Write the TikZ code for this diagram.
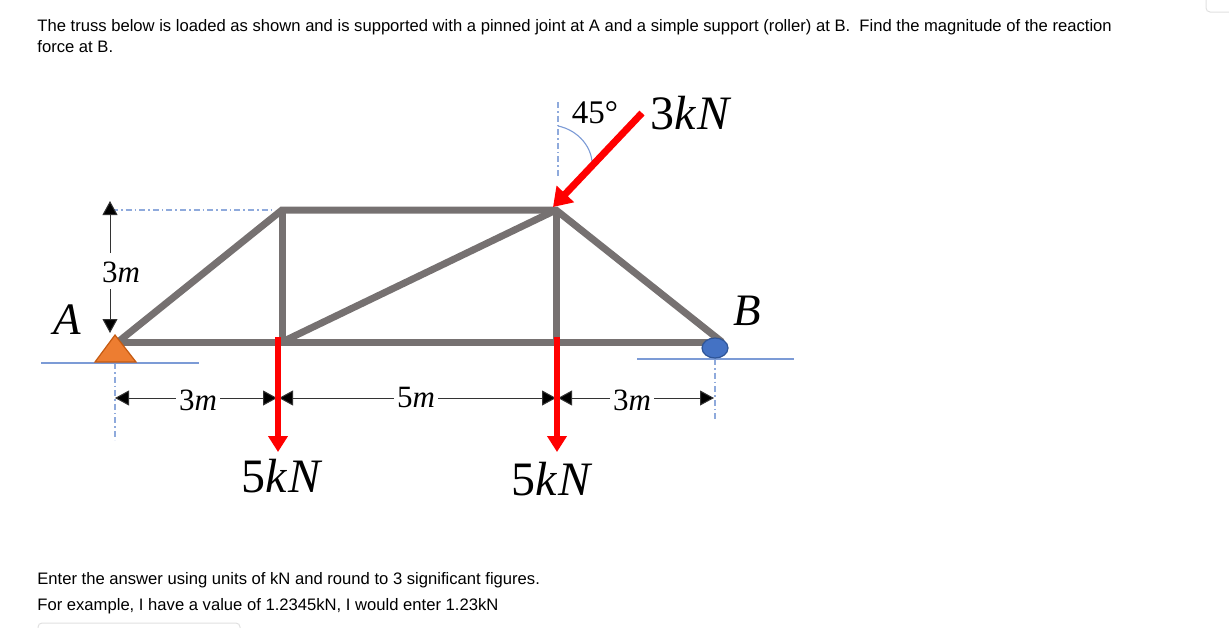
\documentclass[tikz,border=0pt]{standalone}
\usepackage{fontspec}
\setmainfont{Liberation Sans}
\newfontfamily\labelfont{Liberation Serif}
\usetikzlibrary{arrows.meta,shapes.geometric}
\definecolor{trussgray}{HTML}{767171}
\definecolor{guideblue}{HTML}{8FAADC}
\definecolor{groundblue}{HTML}{7C9BD6}
\definecolor{pinfill}{HTML}{ED7D31}
\definecolor{pinedge}{HTML}{C55A11}
\definecolor{rollerfill}{HTML}{4472C4}
\definecolor{rolleredge}{HTML}{2F5597}
\tikzset{
  member/.style={draw=trussgray,line width=3.5pt},
  load/.style={draw=red,line width=2.9pt,-{Triangle[length=8pt,width=9.5pt,fill=red]}},
  loadbig/.style={draw=red,line width=3.5pt,-{Triangle[length=9pt,width=11.5pt,fill=red]}},
  dimline/.style={draw=black!80,line width=0.5pt,-{Triangle[length=7pt,width=7.5pt,fill=black]}},
  guide/.style={draw=guideblue,line width=0.55pt,dash pattern=on 3pt off 1.5pt on 0.8pt off 1.5pt},
  ground/.style={draw=groundblue,line width=0.55pt},
  prose/.style={anchor=west,inner sep=0pt,font=\fontsize{8.31pt}{10pt}\selectfont},
  dimtext/.style={inner sep=1.5pt,font=\labelfont\fontsize{15.5pt}{17pt}\selectfont},
  bigtext/.style={inner sep=0pt,font=\labelfont\fontsize{24pt}{26pt}\selectfont},
  widget/.style={draw=black!12,line width=0.5pt,rounded corners=2pt}
}
\begin{document}
\begin{tikzpicture}[x=0.5pt,y=-0.5pt]
      \useasboundingbox (0,0) rectangle (1229,627);
      \node[prose] (line1) at (37,27) {The truss below is loaded as shown and is supported with a pinned joint at A and a simple support (roller) at B.\ \ Find the magnitude of the reaction};
      \node[prose] (line2) at (37,47) {force at B.};
      \node[prose] (line3) at (37,580) {Enter the answer using units of kN and round to 3 significant figures.};
      \node[prose] (line4) at (37,606) {For example, I have a value of 1.2345kN, I would enter 1.23kN};
      \draw[widget] (38,632) -- (38,623) -- (240,623) -- (240,632);
      \draw[widget] (1206,-5) -- (1206,12) -- (1235,12);
      % joints
      \coordinate (A) at (118,342);
      \coordinate (C) at (282,210);
      \coordinate (D) at (556,210);
      \coordinate (E) at (282,342);
      \coordinate (F) at (556,342);
      \coordinate (B) at (722,342);
      % guides
      \coordinate (topL) at (112,210);
      \coordinate (topR) at (275,210);
      \coordinate (loadT) at (558,102);
      \coordinate (loadB) at (558,178);
      \coordinate (footA) at (115,363);
      \coordinate (footAb) at (115,440);
      \coordinate (footB) at (715,359);
      \coordinate (footBb) at (715,422);
      \draw[guide] (topL) -- (topR);
      \draw[guide] (loadT) -- (loadB);
      \draw[guide] (footA) -- (footAb);
      \draw[guide] (footB) -- (footBb);
      \draw[groundblue,line width=0.55pt] (558,126) .. controls (578,130) and (594,148) .. (592,168);
      % members
      \draw[member] (A) -- (E) -- (F) -- (B);
      \draw[member] (A) -- (C) -- (D) -- (B);
      \draw[member] (C) -- (E);
      \draw[member] (D) -- (F);
      \draw[member] (E) -- (D);
      % supports
      \coordinate (gA1) at (41,363);
      \coordinate (gA2) at (199,363);
      \coordinate (gB1) at (637,359);
      \coordinate (gB2) at (794,359);
      \draw[ground] (gA1) -- (gA2);
      \draw[ground] (gB1) -- (gB2);
      \draw[fill=pinfill,draw=pinedge,line width=0.6pt] (115,335) -- (95,362) -- (136,362) -- cycle;
      \node[ellipse,draw=rolleredge,fill=rollerfill,line width=0.6pt,minimum width=13pt,minimum height=10pt,inner sep=0pt] (rollerB) at (715,348) {};
      \node[bigtext,font=\labelfont\fontsize{22.5pt}{26pt}\selectfont] (labelA) at (67,320) {\itshape A};
      \node[bigtext,font=\labelfont\fontsize{22.5pt}{26pt}\selectfont] (labelB) at (747,311) {\itshape B};
      % dimensions
      \node[dimtext] (dimV) at (121,272) {3\textit{m}};
      \coordinate (dimVt) at (110,201);
      \coordinate (dimVb) at (110,333);
      \coordinate (dimVa) at (110,253);
      \coordinate (dimVc) at (110,289);
      \draw[dimline] (dimVa) -- (dimVt);
      \draw[dimline] (dimVc) -- (dimVb);
      \node[dimtext] (dimH1) at (198,400) {3\textit{m}};
      \node[dimtext] (dimH2) at (416,397) {5\textit{m}};
      \node[dimtext] (dimH3) at (632,400) {3\textit{m}};
      \coordinate (d0) at (115,398);
      \coordinate (d1a) at (277,398);
      \coordinate (d1b) at (279,398);
      \coordinate (d2a) at (556,398);
      \coordinate (d2b) at (558,398);
      \coordinate (d3) at (714,398);
      \draw[dimline] (dimH1.west |- d0) -- (d0);
      \draw[dimline] (dimH1.east |- d0) -- (d1a);
      \draw[dimline] (dimH2.west |- d0) -- (d1b);
      \draw[dimline] (dimH2.east |- d0) -- (d2a);
      \draw[dimline] (dimH3.west |- d0) -- (d2b);
      \draw[dimline] (dimH3.east |- d0) -- (d3);
      % loads
      \coordinate (load1a) at (278,337);
      \coordinate (load1b) at (278,452);
      \coordinate (load2a) at (557,337);
      \coordinate (load2b) at (557,452);
      \coordinate (load3a) at (642,113);
      \coordinate (load3b) at (553,207);
      \draw[load] (load1a) -- (load1b);
      \draw[load] (load2a) -- (load2b);
      \draw[loadbig] (load3a) -- (load3b);
      \node[bigtext] (kn1) at (282,476) {5\textit{k\kern1.2pt N}};
      \node[bigtext] (kn2) at (552,479) {5\textit{k\kern1.2pt N}};
      \node[bigtext] (kn3) at (691,113) {3\textit{k\kern1.2pt N}};
      \node[dimtext,font=\labelfont\fontsize{16.5pt}{18pt}\selectfont] (angle) at (595,113) {45°};
\end{tikzpicture}
\end{document}
